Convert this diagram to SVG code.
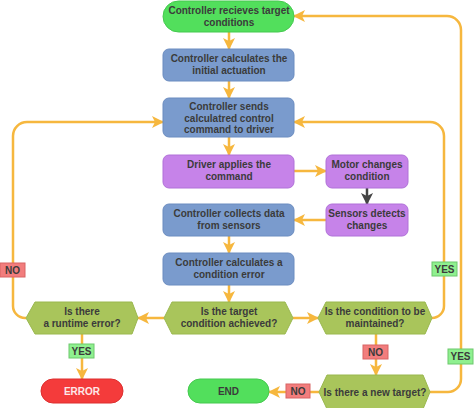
<svg xmlns="http://www.w3.org/2000/svg" width="474" height="408" viewBox="0 0 474 408">
<style>
text{font-family:"Liberation Sans",Arial,sans-serif;font-weight:bold;font-size:10px;fill:#3b3b3b;text-anchor:middle}
.term{fill:#52df5c;stroke:#45c94f;stroke-width:1}
.err{fill:#f43b3b;stroke:#dd2f2f;stroke-width:1}
.blue{fill:#7a9bcd;stroke:#6b8cc0;stroke-width:1}
.purp{fill:#c683e9;stroke:#b071d8;stroke-width:1}
.hex{fill:#a9c55b;stroke:#9ab84e;stroke-width:1}
.no{fill:#f27d7d;stroke:#d86464;stroke-width:1}
.yes{fill:#8ff08f;stroke:#6cc86c;stroke-width:1}
.c{fill:none;stroke:#f6b73e;stroke-width:2.5;marker-end:url(#ah)}
.cd{fill:none;stroke:#444;stroke-width:2.5;marker-end:url(#ahd)}
.w{fill:#fde8e8}
</style>
<defs>
<marker id="ah" markerUnits="userSpaceOnUse" markerWidth="12" markerHeight="12" viewBox="0 0 12 12" refX="11" refY="6" orient="auto">
<path d="M0,0 L12,6 L0,12 L3,6 Z" fill="#f6b73e"/>
</marker>
<marker id="ahd" markerUnits="userSpaceOnUse" markerWidth="12" markerHeight="12" viewBox="0 0 12 12" refX="11" refY="6" orient="auto">
<path d="M0,0 L12,6 L0,12 L3,6 Z" fill="#444"/>
</marker>
</defs>
<rect width="474" height="408" fill="#fff"/>
<g id="connectors">
<path class="c" d="M229,32 V49"/>
<path class="c" d="M229,81 V98"/>
<path class="c" d="M229,137 V155"/>
<path class="c" d="M294,171 H326"/>
<path class="cd" d="M367,188 V204"/>
<path class="c" d="M326,220 H294"/>
<path class="c" d="M229,236 V253"/>
<path class="c" d="M229,285 V302"/>
<path class="c" d="M164,318 H138"/>
<path class="c" d="M293,318 H318"/>
<path class="c" d="M26,318 H25 A12,12 0 0 1 13,306 V136 A14,14 0 0 1 27,122 H163"/>
<path class="c" d="M432,318 A12,12 0 0 0 444,306 V136 A14,14 0 0 0 430,122 H294"/>
<path class="c" d="M82,334 V379"/>
<path class="c" d="M376,334 V375"/>
<path class="c" d="M319,392 H269"/>
<path class="c" d="M430,392 H448 A13,13 0 0 0 461,379 V30 A14,14 0 0 0 447,16 H294"/>
</g>
<g id="start"><rect class="term" x="163" y="1" width="131" height="31" rx="15.5"/><text x="229" y="14">Controller recieves target</text><text x="229" y="26">conditions</text></g>
<g id="calc-init"><rect class="blue" x="163" y="49" width="131" height="32" rx="6"/><text x="229" y="62">Controller calculates the</text><text x="229" y="74">initial actuation</text></g>
<g id="send"><rect class="blue" x="163" y="98" width="131" height="39" rx="6"/><text x="229" y="110">Controller sends</text><text x="229" y="121.5">calculatred control</text><text x="229" y="133">command to driver</text></g>
<g id="driver"><rect class="purp" x="163" y="155" width="131" height="33" rx="6"/><text x="229" y="168">Driver applies the</text><text x="229" y="180">command</text></g>
<g id="motor"><rect class="purp" x="326" y="155" width="82" height="33" rx="6"/><text x="367" y="168">Motor changes</text><text x="367" y="180">condition</text></g>
<g id="sensors"><rect class="purp" x="326" y="204" width="82" height="32" rx="6"/><text x="367" y="217">Sensors detects</text><text x="367" y="229">changes</text></g>
<g id="collect"><rect class="blue" x="163" y="204" width="131" height="32" rx="6"/><text x="229" y="217">Controller collects data</text><text x="229" y="229">from sensors</text></g>
<g id="calc-err"><rect class="blue" x="163" y="253" width="131" height="32" rx="6"/><text x="229" y="266">Controller calculates a</text><text x="229" y="278">condition error</text></g>
<g id="runtime"><polygon class="hex" points="26,318 35,302 132,302 138,318 132,334 35,334"/><text x="82" y="315">Is there</text><text x="82" y="327">a runtime error?</text></g>
<g id="achieved"><polygon class="hex" points="164,318 172,302 285,302 293,318 285,334 172,334"/><text x="229" y="315">Is the target</text><text x="229" y="327">condition achieved?</text></g>
<g id="maintain"><polygon class="hex" points="318,318 326,302 425,302 432,318 425,334 326,334"/><text x="375" y="315">Is the condition to be</text><text x="375" y="327">maintained?</text></g>
<g id="newtarget"><polygon class="hex" points="319,392 327,375 423,375 430,392 423,409 327,409"/><text x="375" y="395.5">Is there a new target?</text></g>
<g id="error"><rect class="err" x="41" y="379" width="82" height="24" rx="12"/><text class="w" x="82" y="395">ERROR</text></g>
<g id="end"><rect class="term" x="188" y="379" width="81" height="24" rx="12"/><text x="228.5" y="395">END</text></g>
<g id="labels">
<rect class="no" x="0" y="263" width="25" height="14"/><text x="12.5" y="274">NO</text>
<rect class="yes" x="432" y="262" width="25" height="14"/><text x="444.5" y="273">YES</text>
<rect class="yes" x="69" y="344" width="25" height="14"/><text x="81.5" y="355">YES</text>
<rect class="no" x="363" y="345" width="25" height="14"/><text x="375.5" y="356">NO</text>
<rect class="yes" x="448" y="349" width="25" height="15"/><text x="460.5" y="360">YES</text>
<rect class="no" x="286" y="384" width="24" height="14"/><text x="298" y="395">NO</text>
</g>
</svg>
